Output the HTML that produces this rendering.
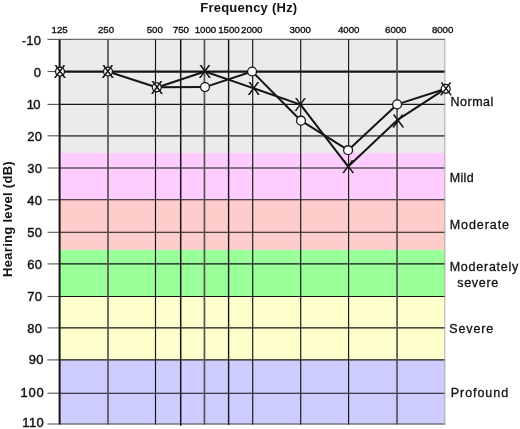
<!DOCTYPE html>
<html><head><meta charset="utf-8"><title>Audiogram</title>
<style>
html,body{margin:0;padding:0;background:#fff;}
body{width:520px;height:429px;overflow:hidden;}
svg{display:block;font-family:"Liberation Sans",Arial,Helvetica,sans-serif;}
.fl{font-size:9.7px;letter-spacing:-0.05px;fill:#111;stroke:#111;stroke-width:0.35px;text-anchor:middle;}
.yl{font-size:13px;fill:#111;stroke:#111;stroke-width:0.4px;text-anchor:end;}
.rl{font-size:12.5px;fill:#111;stroke:#111;stroke-width:0.3px;}
.ti{font-weight:bold;fill:#111;}
</style></head><body>
<svg width="520" height="429" viewBox="0 0 520 429">
<rect width="520" height="429" fill="#fff"/>
<rect x="59.6" y="39.4" width="385.6" height="113.5" fill="#ebebeb"/>
<rect x="59.6" y="152.9" width="385.6" height="47.1" fill="#ffccff"/>
<rect x="59.6" y="200.0" width="385.6" height="49.9" fill="#ffcccc"/>
<rect x="59.6" y="249.9" width="385.6" height="46.8" fill="#99ff99"/>
<rect x="59.6" y="296.7" width="385.6" height="63.6" fill="#ffffcc"/>
<rect x="59.6" y="360.3" width="385.6" height="64.0" fill="#ccccff"/>
<line x1="47.5" x2="59.6" y1="39.4" y2="39.4" stroke="#555" stroke-width="1.1"/>
<line x1="59.6" x2="445.2" y1="39.4" y2="39.4" stroke="#6a6a6a" stroke-width="1.3"/>
<line x1="47.5" x2="59.6" y1="71.5" y2="71.5" stroke="#555" stroke-width="1.1"/>
<line x1="59.6" x2="445.2" y1="71.5" y2="71.5" stroke="#151515" stroke-width="2.25"/>
<line x1="47.5" x2="59.6" y1="104.4" y2="104.4" stroke="#555" stroke-width="1.1"/>
<line x1="59.6" x2="445.2" y1="104.4" y2="104.4" stroke="#151515" stroke-width="1.1"/>
<line x1="47.5" x2="59.6" y1="135.8" y2="135.8" stroke="#555" stroke-width="1.1"/>
<line x1="59.6" x2="445.2" y1="135.8" y2="135.8" stroke="#5c5c5c" stroke-width="1.7"/>
<line x1="47.5" x2="59.6" y1="168.0" y2="168.0" stroke="#555" stroke-width="1.1"/>
<line x1="59.6" x2="445.2" y1="168.0" y2="168.0" stroke="#151515" stroke-width="1.1"/>
<line x1="47.5" x2="59.6" y1="199.8" y2="199.8" stroke="#555" stroke-width="1.1"/>
<line x1="59.6" x2="445.2" y1="199.8" y2="199.8" stroke="#151515" stroke-width="1.1"/>
<line x1="47.5" x2="59.6" y1="232.3" y2="232.3" stroke="#555" stroke-width="1.1"/>
<line x1="59.6" x2="445.2" y1="232.3" y2="232.3" stroke="#151515" stroke-width="1.1"/>
<line x1="47.5" x2="59.6" y1="263.9" y2="263.9" stroke="#555" stroke-width="1.1"/>
<line x1="59.6" x2="445.2" y1="263.9" y2="263.9" stroke="#151515" stroke-width="1.1"/>
<line x1="47.5" x2="59.6" y1="296.5" y2="296.5" stroke="#555" stroke-width="1.1"/>
<line x1="59.6" x2="445.2" y1="296.5" y2="296.5" stroke="#151515" stroke-width="1.1"/>
<line x1="47.5" x2="59.6" y1="327.9" y2="327.9" stroke="#555" stroke-width="1.1"/>
<line x1="59.6" x2="445.2" y1="327.9" y2="327.9" stroke="#151515" stroke-width="1.1"/>
<line x1="47.5" x2="59.6" y1="359.9" y2="359.9" stroke="#555" stroke-width="1.1"/>
<line x1="59.6" x2="445.2" y1="359.9" y2="359.9" stroke="#151515" stroke-width="1.1"/>
<line x1="47.5" x2="59.6" y1="393.2" y2="393.2" stroke="#555" stroke-width="1.1"/>
<line x1="59.6" x2="445.2" y1="393.2" y2="393.2" stroke="#151515" stroke-width="1.1"/>
<line x1="47.5" x2="59.6" y1="424.0" y2="424.0" stroke="#555" stroke-width="1.1"/>
<line x1="59.6" x2="445.2" y1="424.0" y2="424.0" stroke="#444" stroke-width="1.0"/>
<line x1="59.6" x2="59.6" y1="39.4" y2="424.5" stroke="#151515" stroke-width="2.0"/>
<line x1="108.0" x2="108.0" y1="39.4" y2="424.5" stroke="#555" stroke-width="1.7"/>
<line x1="155.5" x2="155.5" y1="39.4" y2="424.5" stroke="#151515" stroke-width="1.15"/>
<line x1="180.7" x2="180.7" y1="39.4" y2="425.8" stroke="#151515" stroke-width="1.5"/>
<line x1="204.45" x2="204.45" y1="39.4" y2="424.5" stroke="#555" stroke-width="1.7"/>
<line x1="228.6" x2="228.6" y1="39.4" y2="425.0" stroke="#151515" stroke-width="1.4"/>
<line x1="252.7" x2="252.7" y1="39.4" y2="424.5" stroke="#151515" stroke-width="1.15"/>
<line x1="300.7" x2="300.7" y1="39.4" y2="424.5" stroke="#151515" stroke-width="1.15"/>
<line x1="348.6" x2="348.6" y1="39.4" y2="424.5" stroke="#151515" stroke-width="1.15"/>
<line x1="397.05" x2="397.05" y1="39.4" y2="424.5" stroke="#555" stroke-width="1.7"/>
<line x1="444.8" x2="444.8" y1="39.4" y2="424.5" stroke="#aaa" stroke-width="1.0"/>
<text class="ti" x="200.2" y="12" font-size="13" textLength="97" lengthAdjust="spacing">Frequency (Hz)</text>
<text class="fl" x="59.6" y="32.7">125</text>
<text class="fl" x="106.0" y="32.7">250</text>
<text class="fl" x="154.8" y="32.7">500</text>
<text class="fl" x="180.9" y="32.7">750</text>
<text class="fl" x="205.4" y="32.7">1000</text>
<text class="fl" x="228.9" y="32.7">1500</text>
<text class="fl" x="251.8" y="32.7">2000</text>
<text class="fl" x="300.2" y="32.7">3000</text>
<text class="fl" x="348.7" y="32.7">4000</text>
<text class="fl" x="395.8" y="32.7">6000</text>
<text class="fl" x="442.6" y="32.7">8000</text>
<text class="yl" x="41.4" y="44.7" style="letter-spacing:0.3px">-10</text>
<text class="yl" x="41.4" y="76.7" style="letter-spacing:0.3px">0</text>
<text class="yl" x="39.9" y="108.7" style="letter-spacing:-0.7px">10</text>
<text class="yl" x="42.4" y="140.5" style="letter-spacing:0.3px">20</text>
<text class="yl" x="42.3" y="172.5" style="letter-spacing:0.3px">30</text>
<text class="yl" x="42.4" y="204.6" style="letter-spacing:0.3px">40</text>
<text class="yl" x="42.4" y="236.8" style="letter-spacing:0.3px">50</text>
<text class="yl" x="42.4" y="268.7" style="letter-spacing:0.3px">60</text>
<text class="yl" x="42.4" y="300.8" style="letter-spacing:0.3px">70</text>
<text class="yl" x="42.4" y="332.5" style="letter-spacing:0.3px">80</text>
<text class="yl" x="43.9" y="364.3" style="letter-spacing:0.3px">90</text>
<text class="yl" x="44.5" y="396.7" style="letter-spacing:0.8px">100</text>
<text class="yl" x="44.2" y="427.3" style="letter-spacing:0.4px">110</text>
<text class="ti" transform="translate(12.0,219.0) rotate(-90)" font-size="13" letter-spacing="0.3" text-anchor="middle">Hearing level (dB)</text>
<text class="rl" x="450.6" y="106.2" textLength="42.6" lengthAdjust="spacing">Normal</text>
<text class="rl" x="449.7" y="182" textLength="23.9" lengthAdjust="spacing">Mild</text>
<text class="rl" x="449.7" y="228.6" textLength="59.3" lengthAdjust="spacing">Moderate</text>
<text class="rl" x="449.7" y="270.9" textLength="68.6" lengthAdjust="spacing">Moderately</text>
<text class="rl" x="457.2" y="287.3" textLength="41" lengthAdjust="spacing">severe</text>
<text class="rl" x="449.3" y="332.6" textLength="43.9" lengthAdjust="spacing">Severe</text>
<text class="rl" x="450.8" y="396.6" textLength="57.3" lengthAdjust="spacing">Profound</text>
<polyline points="107.80,71.50 157.00,87.50 204.90,71.50 253.10,88.10 300.50,104.60 348.20,166.60 397.20,120.20 445.60,88.70" fill="none" stroke="#151515" stroke-width="2.0" stroke-linejoin="round"/>
<polyline points="156.80,87.30 205.00,87.10 252.10,71.50 301.00,120.70 348.10,150.20 397.10,104.40 445.70,88.80" fill="none" stroke="#151515" stroke-width="2.0" stroke-linejoin="round"/>
<circle cx="60.00" cy="71.60" r="4.45" fill="#fff" stroke="#151515" stroke-width="1.3"/>
<circle cx="108.00" cy="71.50" r="4.45" fill="#fff" stroke="#151515" stroke-width="1.3"/>
<circle cx="156.80" cy="87.30" r="4.45" fill="#fff" stroke="#151515" stroke-width="1.3"/>
<circle cx="205.00" cy="87.10" r="4.45" fill="#fff" stroke="#151515" stroke-width="1.3"/>
<circle cx="252.10" cy="71.50" r="4.45" fill="#fff" stroke="#151515" stroke-width="1.3"/>
<circle cx="301.00" cy="120.70" r="4.45" fill="#fff" stroke="#151515" stroke-width="1.3"/>
<circle cx="348.10" cy="150.20" r="4.45" fill="#fff" stroke="#151515" stroke-width="1.3"/>
<circle cx="397.10" cy="104.40" r="4.45" fill="#fff" stroke="#151515" stroke-width="1.3"/>
<circle cx="445.70" cy="88.80" r="4.45" fill="#fff" stroke="#151515" stroke-width="1.3"/>
<path d="M55.70 65.50L64.70 77.50M55.10 77.50L64.10 65.50" stroke="#151515" stroke-width="1.5" fill="none"/>
<path d="M54.70 65.50h2.0M63.10 65.50h2.0M54.10 77.50h2.0M63.70 77.50h2.0" stroke="#151515" stroke-width="0.8" fill="none"/>
<path d="M103.60 65.50L112.60 77.50M103.00 77.50L112.00 65.50" stroke="#151515" stroke-width="1.5" fill="none"/>
<path d="M102.60 65.50h2.0M111.00 65.50h2.0M102.00 77.50h2.0M111.60 77.50h2.0" stroke="#151515" stroke-width="0.8" fill="none"/>
<path d="M152.80 81.50L161.80 93.50M152.20 93.50L161.20 81.50" stroke="#151515" stroke-width="1.5" fill="none"/>
<path d="M151.80 81.50h2.0M160.20 81.50h2.0M151.20 93.50h2.0M160.80 93.50h2.0" stroke="#151515" stroke-width="0.8" fill="none"/>
<path d="M200.70 65.50L209.70 77.50M200.10 77.50L209.10 65.50" stroke="#151515" stroke-width="1.5" fill="none"/>
<path d="M199.70 65.50h2.0M208.10 65.50h2.0M199.10 77.50h2.0M208.70 77.50h2.0" stroke="#151515" stroke-width="0.8" fill="none"/>
<path d="M249.60 82.50L258.60 94.50M249.00 94.50L258.00 82.50" stroke="#151515" stroke-width="1.5" fill="none"/>
<path d="M248.60 82.50h2.0M257.00 82.50h2.0M248.00 94.50h2.0M257.60 94.50h2.0" stroke="#151515" stroke-width="0.8" fill="none"/>
<path d="M296.30 98.60L305.30 110.60M295.70 110.60L304.70 98.60" stroke="#151515" stroke-width="1.5" fill="none"/>
<path d="M295.30 98.60h2.0M303.70 98.60h2.0M294.70 110.60h2.0M304.30 110.60h2.0" stroke="#151515" stroke-width="0.8" fill="none"/>
<path d="M344.00 160.60L353.00 172.60M343.40 172.60L352.40 160.60" stroke="#151515" stroke-width="1.5" fill="none"/>
<path d="M343.00 160.60h2.0M351.40 160.60h2.0M342.40 172.60h2.0M352.00 172.60h2.0" stroke="#151515" stroke-width="0.8" fill="none"/>
<path d="M394.00 115.00L403.00 127.00M393.40 127.00L402.40 115.00" stroke="#151515" stroke-width="1.5" fill="none"/>
<path d="M393.00 115.00h2.0M401.40 115.00h2.0M392.40 127.00h2.0M402.00 127.00h2.0" stroke="#151515" stroke-width="0.8" fill="none"/>
<path d="M441.80 82.90L450.80 94.90M441.20 94.90L450.20 82.90" stroke="#151515" stroke-width="1.5" fill="none"/>
<path d="M440.80 82.90h2.0M449.20 82.90h2.0M440.20 94.90h2.0M449.80 94.90h2.0" stroke="#151515" stroke-width="0.8" fill="none"/>
</svg></body></html>
